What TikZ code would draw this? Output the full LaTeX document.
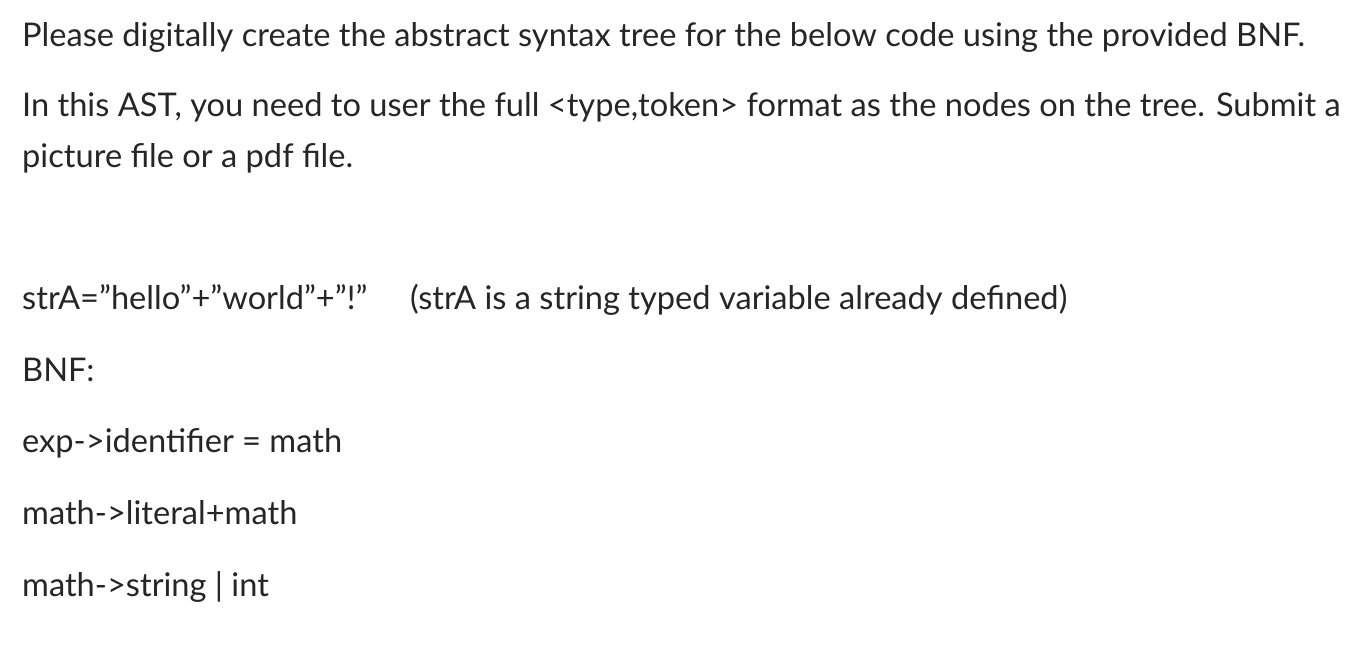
\documentclass[tikz,border=0pt]{standalone}
\usepackage{fontspec}
\setmainfont{Lato}
\newcommand{\dq}{\symbol{34}}
\begin{document}
\begin{tikzpicture}[x=1pt,y=1pt,txt/.style={anchor=base west,inner sep=0pt,text=black!85,font=\fontsize{32.6}{38}\selectfont}]
\useasboundingbox[fill=white] (0,0) rectangle (1364,666);
\node[txt] (l1) at (22,666-47) {Please digitally create the abstract syntax tree for the below code using the provided BNF.};
\node[txt] (l2) at (22,666-117) {In this AST, you need to user the full <type,token> format as the nodes on the tree. Submit a};
\node[txt] (l3) at (22,666-168) {picture file or a pdf file.};
\node[txt] (l4) at (22,666-310) {strA=\dq hello\dq+\dq world\dq+\dq!\dq};
\node[txt] (l4b) at (410,666-310) {(strA is a string typed variable already defined)};
\node[txt] (l5) at (22,666-382) {BNF:};
\node[txt] (l6) at (22,666-453) {exp->identifier = math};
\node[txt] (l7) at (22,666-525) {math->literal+math};
\node[txt] (l8) at (22,666-597) {math->string | int};
\end{tikzpicture}
\end{document}
